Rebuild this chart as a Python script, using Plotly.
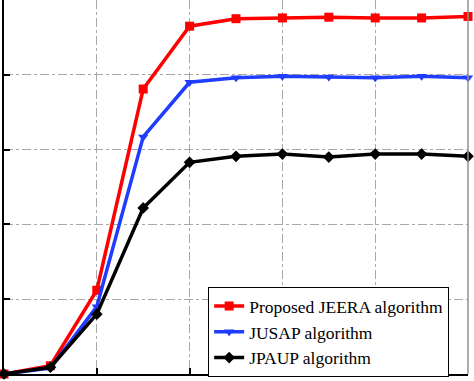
import plotly.graph_objects as go

x_vals = [0, 1, 2, 3, 4, 5, 6, 7, 8, 9, 10]
jeera = [0.0, 0.11, 1.12, 3.81, 4.65, 4.75, 4.76, 4.77, 4.76, 4.76, 4.78]
jusap = [0.0, 0.08, 0.90, 3.17, 3.90, 3.96, 3.98, 3.97, 3.96, 3.98, 3.96]
jpaup = [0.0, 0.09, 0.80, 2.22, 2.83, 2.91, 2.94, 2.90, 2.94, 2.94, 2.91]
names = ["Proposed JEERA algorithm", "JUSAP algorithm", "JPAUP algorithm"]

fig = go.Figure()
for ys, name, color, sym in [
    (jeera, names[0], "#ff0000", "square"),
    (jusap, names[1], "#1f3cff", "triangle-down"),
    (jpaup, names[2], "#000000", "diamond"),
]:
    fig.add_trace(go.Scatter(
        x=x_vals, y=ys, name=name, mode="lines+markers",
        line=dict(color=color, width=3.5),
        marker=dict(symbol=sym, size=9, color=color),
        cliponaxis=False,
    ))

grid = dict(showgrid=True, gridcolor="#a8a8a8", gridwidth=1, griddash="dashdot",
            showticklabels=False, ticks="inside", ticklen=6, tickwidth=1.5,
            tickcolor="black", showline=True, linecolor="black", linewidth=2,
            zeroline=False, mirror=False)

fig.update_layout(
    width=474, height=381,
    margin=dict(l=4, r=6, t=0, b=7),
    paper_bgcolor="white", plot_bgcolor="white",
    xaxis=dict(range=[0, 10], dtick=2, **grid),
    yaxis=dict(range=[0, 5], dtick=1, **grid),
    legend=dict(x=0.44, y=0.232, xanchor="left", yanchor="top",
                bgcolor="white", bordercolor="black", borderwidth=1,
                font=dict(family="Liberation Serif", size=17.5, color="black"),
                tracegroupgap=0),
    showlegend=True,
    shapes=[dict(type="line", xref="paper", yref="paper", x0=1, x1=1, y0=0, y1=1,
                 line=dict(color="#909090", width=1.5))],
)

fig.write_html("out.html", config={"displayModeBar": False},
               post_script="document.body.style.margin='0';document.body.style.overflow='hidden';")
